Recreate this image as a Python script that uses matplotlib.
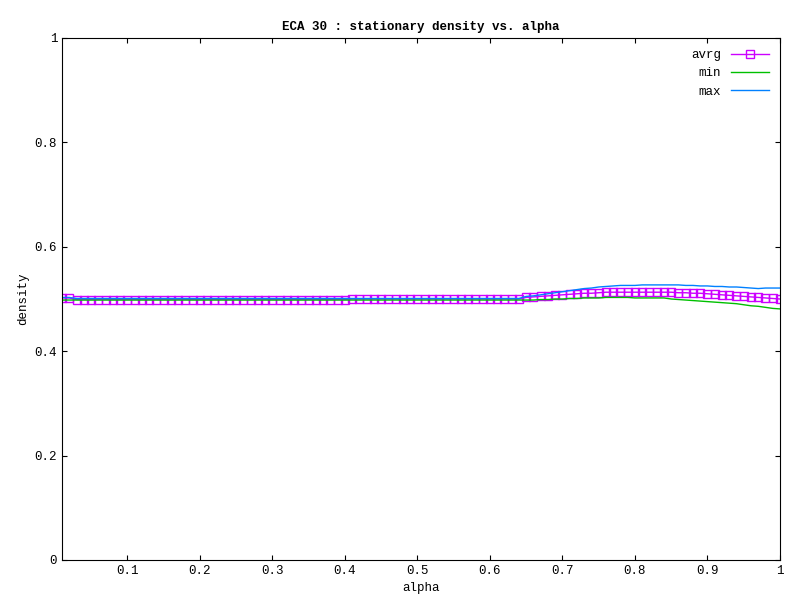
import matplotlib
matplotlib.use("Agg")
import matplotlib.pyplot as plt

alpha = [round(0.01 * i, 2) for i in range(1, 101)]

avrg_head = [0.502, 0.502] + [0.499] * 38 + [0.500] * 24
avrg_tail = [0.503, 0.504, 0.505, 0.506, 0.507, 0.508, 0.509, 0.510, 0.511, 0.511,
             0.512, 0.513, 0.513, 0.513, 0.513, 0.513, 0.513, 0.513, 0.513, 0.513,
             0.513, 0.512, 0.512, 0.511, 0.511, 0.510, 0.509, 0.508, 0.507, 0.506,
             0.505, 0.504, 0.503, 0.502, 0.501, 0.500]
min_head = [0.498] * 64
min_tail = [0.498, 0.498, 0.499, 0.499, 0.500, 0.500, 0.501, 0.501, 0.502, 0.502,
            0.502, 0.503, 0.503, 0.503, 0.503, 0.502, 0.502, 0.502, 0.502, 0.502,
            0.500, 0.499, 0.498, 0.497, 0.496, 0.495, 0.494, 0.493, 0.492, 0.491,
            0.489, 0.487, 0.486, 0.484, 0.482, 0.481]
max_head = [0.503, 0.503] + [0.501] * 62
max_tail = [0.505, 0.506, 0.508, 0.510, 0.512, 0.514, 0.516, 0.518, 0.520, 0.521,
            0.523, 0.524, 0.525, 0.526, 0.526, 0.526, 0.527, 0.527, 0.527, 0.527,
            0.527, 0.527, 0.526, 0.526, 0.525, 0.525, 0.524, 0.524, 0.523, 0.523,
            0.522, 0.521, 0.520, 0.521, 0.521, 0.521]

avrg = avrg_head + avrg_tail
vmin = min_head + min_tail
vmax = max_head + max_tail

plt.rcParams['font.family'] = ['Liberation Mono', 'DejaVu Sans Mono']
fig = plt.figure(figsize=(8, 6), dpi=100)
ax = fig.add_axes([62/800, 40/600, (780-62)/800, (560-38)/600])
ax.plot(alpha, avrg, color='#cc00ff', marker='s', markersize=6, markerfacecolor='none',
        markeredgewidth=1, linewidth=1, label='avrg')
ax.plot(alpha, vmin, color='#00c000', linewidth=1, label='min')
ax.plot(alpha, vmax, color='#0080ff', linewidth=1, label='max')
ax.set_xlim(0.01, 1)
ax.set_ylim(0, 1)
ax.set_xticks([0.1, 0.2, 0.3, 0.4, 0.5, 0.6, 0.7, 0.8, 0.9, 1])
ax.set_xticklabels(['0.1', '0.2', '0.3', '0.4', '0.5', '0.6', '0.7', '0.8', '0.9', '1'])
ax.set_yticks([0, 0.2, 0.4, 0.6, 0.8, 1])
ax.set_yticklabels(['0', '0.2', '0.4', '0.6', '0.8', '1'])
ax.tick_params(direction='in', top=True, right=True, labelsize=9)
ax.set_xlabel('alpha', fontsize=9)
ax.set_ylabel('density', fontsize=9)
ax.set_title('ECA 30 : stationary density vs. alpha', fontsize=9, fontweight='bold')
leg = ax.legend(loc='upper right', frameon=False, fontsize=9, markerfirst=False,
                handlelength=3)
fig.savefig('out.png')
